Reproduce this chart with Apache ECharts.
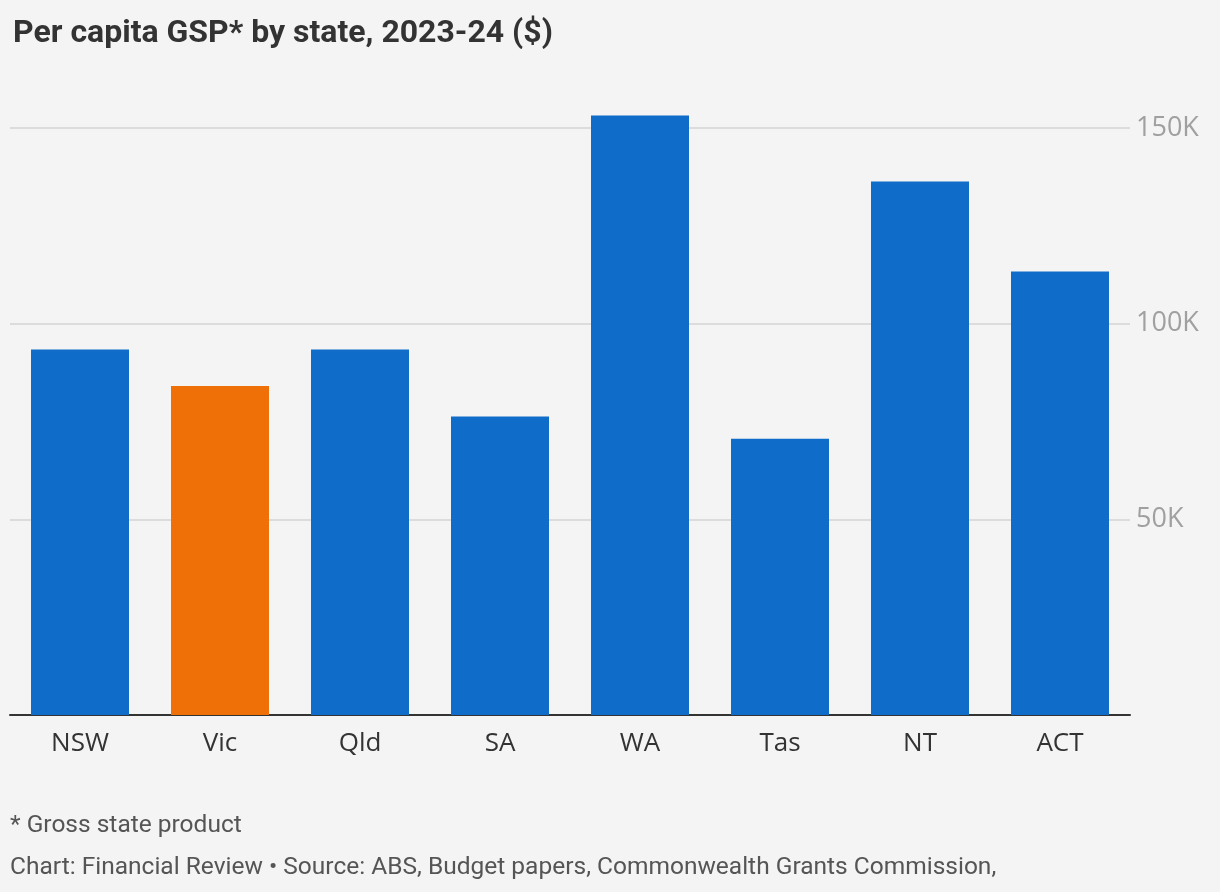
<!DOCTYPE html>
<html>
<head>
<meta charset="utf-8">
<script src="https://cdn.jsdelivr.net/npm/echarts@6/dist/echarts.min.js"></script>
<style>
  html, body { margin: 0; padding: 0; background: #f4f4f4; }
  #chart { width: 1220px; height: 892px; }
</style>
</head>
<body>
<div id="chart"></div>
<script>
const states = ['NSW', 'Vic', 'Qld', 'SA', 'WA', 'Tas', 'NT', 'ACT'];
const gspPerCapita = [93400, 84100, 93400, 76300, 153200, 70600, 136300, 113300];
const highlightState = 'Vic';
const yTicks = [0, 50000, 100000, 150000];

const chartDom = document.getElementById('chart');
const myChart = echarts.init(chartDom);

const blue = '#0f6cc8';
const orange = '#f07008';
const narrow = '"Roboto", sans-serif';

const option = {
    backgroundColor: '#f4f4f4',
    animation: false,
    title: {
        text: 'Per capita GSP* by state, 2023-24 ($)',
        left: 8,
        top: 13,
        textStyle: {
            fontFamily: narrow,
            fontWeight: 'bold',
            fontSize: 32,
            color: '#333333'
        }
    },
    graphic: [
        {
            type: 'text',
            left: 10,
            top: 813,
            style: {
                text: '* Gross state product',
                fontFamily: narrow,
                fontSize: 24.5,
                fill: '#555555'
            }
        },
        {
            type: 'text',
            left: 10,
            top: 855,
            style: {
                text: 'Chart: Financial Review \u2022 Source: ABS, Budget papers, Commonwealth Grants Commission,',
                fontFamily: narrow,
                fontSize: 24.5,
                fill: '#555555'
            }
        }
    ],
    grid: {
        left: 10,
        right: 90,
        top: 128,
        bottom: 892 - 715
    },
    xAxis: {
        type: 'category',
        data: states,
        axisLine: { lineStyle: { color: '#333333', width: 2 } },
        axisTick: { show: false },
        axisLabel: {
            margin: 16,
            fontFamily: '"Open Sans", sans-serif',
            fontSize: 26,
            color: '#333333'
        }
    },
    yAxis: {
        type: 'value',
        position: 'right',
        min: yTicks[0],
        max: yTicks[yTicks.length - 1],
        interval: yTicks[1] - yTicks[0],
        axisLine: { show: false },
        axisTick: { show: false },
        splitLine: { lineStyle: { color: '#dcdcdc', width: 2 } },
        axisLabel: {
            showMinLabel: false,
            margin: 6,
            fontFamily: '"Open Sans", sans-serif',
            fontSize: 27,
            color: '#a0a0a0',
            formatter: (v) => (v / 1000) + 'K'
        }
    },
    series: [{
        type: 'bar',
        clip: false,
        barCategoryGap: '30%',
        data: gspPerCapita.map((v, i) => ({
            value: v,
            itemStyle: { color: states[i] === highlightState ? orange : blue }
        }))
    }]
};

option && myChart.setOption(option);
</script>
</body>
</html>
